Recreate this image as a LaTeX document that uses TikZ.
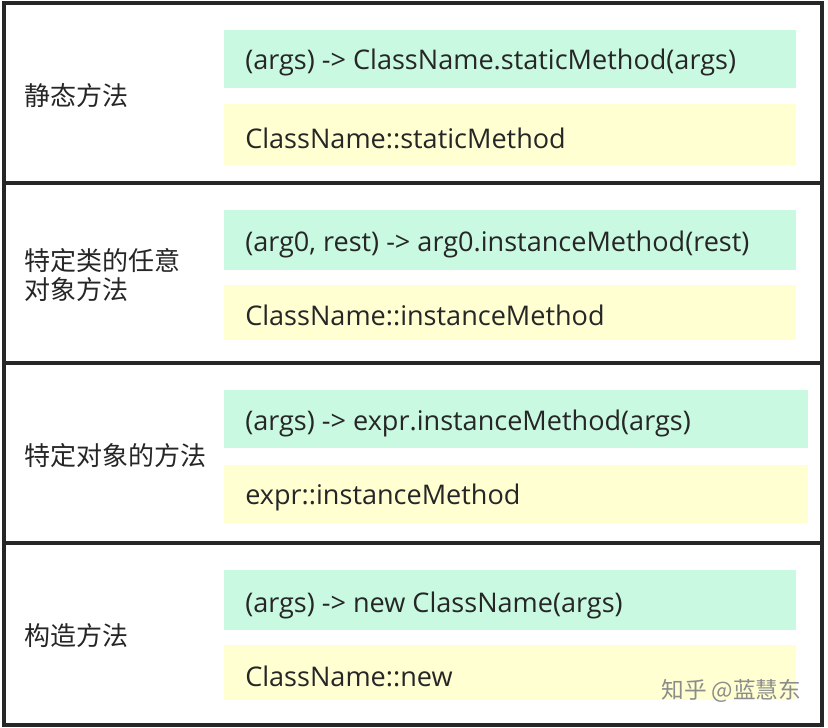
\documentclass[tikz,border=0pt]{standalone}
\usepackage{fontspec}
\setmainfont{Open Sans}
\newfontfamily\cjk{Noto Sans CJK SC}
\definecolor{codegreen}{HTML}{C9F9E1}
\definecolor{codeyellow}{HTML}{FFFFD2}
\tikzset{
  panel/.style={draw=black!85, line width=2.6pt},
  cell/.style={anchor=west, inner xsep=0pt, inner ysep=0pt,
    font=\fontsize{20.3}{24}\selectfont, text=black!85},
  rowlabel/.style={cell, align=left, font=\cjk\fontsize{19.5}{23}\selectfont}
}
\begin{document}
\begin{tikzpicture}[x=0.75pt,y=-0.75pt]
  \useasboundingbox (0,0) rectangle (828,728);
  \fill[white] (0,0) rectangle (828,728);
  % panels
  \foreach \top/\bot in {3/183,183/363,363/543,543/725}
    \draw[panel] (4,\top) rectangle (822,\bot);
  % code boxes
  \foreach \x/\y/\w/\h/\c in {224/30/572/58/codegreen,224/104/572/61/codeyellow,
      224/210/572/60/codegreen,224/285/572/55/codeyellow,
      224/390/584/58/codegreen,224/465/584/58/codeyellow,
      224/570/572/60/codegreen,224/645/572/55/codeyellow}
    \fill[\c] (\x,\y) rectangle ++(\w,\h);
  % code texts
  \node[cell] (s1) at (245,62) {(args) -> ClassName.staticMethod(args)};
  \node[cell] (s2) at (245,138) {ClassName::staticMethod};
  \node[cell] (a1) at (245,244) {(arg0, rest) -> arg0.instanceMethod(rest)};
  \node[cell] (a2) at (245,315) {ClassName::instanceMethod};
  \node[cell] (o1) at (245,423) {(args) -> expr.instanceMethod(args)};
  \node[cell] (o2) at (245,497) {expr::instanceMethod};
  \node[cell] (c1) at (245,605) {(args) -> new ClassName(args)};
  \node[cell] (c2) at (245,676) {ClassName::new};
  % row labels
  \node[rowlabel] (l1) at (24,96) {静态方法};
  \node[rowlabel] (l2) at (24,275) {特定类的任意\\[-1pt]对象方法};
  \node[rowlabel] (l3) at (24,456) {特定对象的方法};
  \node[rowlabel] (l4) at (24,636) {构造方法};
  % watermark
  \node[anchor=east, text=black!45, font=\cjk\fontsize{17}{19}\selectfont] (wm)
    at (806,691) {知乎 @蓝慧东};
\end{tikzpicture}
\end{document}
